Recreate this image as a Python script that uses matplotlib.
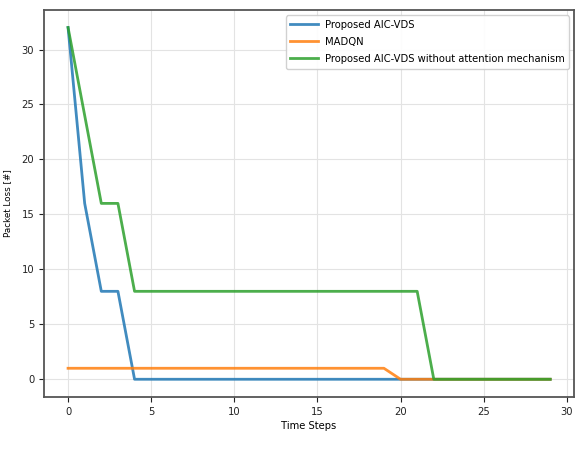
import matplotlib
matplotlib.use('Agg')
import matplotlib.pyplot as plt
from matplotlib.font_manager import FontProperties

#------------------------------------------------------------------------------
steps = list(range(30))
aic_vds = [32, 16, 8, 8] + [0] * 26
madqn = [1] * 20 + [0] * 10
aic_no_att = [32, 24, 16, 16] + [8] * 18 + [0] * 8
labels = ['Proposed AIC-VDS', 'MADQN', 'Proposed AIC-VDS without attention mechanism']
#------------------------------------------------------------------------------

tick_font = FontProperties(family='DejaVu Sans', stretch='condensed', size=8)
lab_font = FontProperties(family='DejaVu Sans', stretch='condensed', size=8)

fig = plt.figure(figsize=(5.86, 4.73), dpi=100)
ax = fig.add_axes([0.075, 0.161, 0.905, 0.818])

ax.plot(steps, aic_vds, color='tab:blue', linewidth=2, alpha=0.85, label=labels[0])
ax.plot(steps, madqn, color='tab:orange', linewidth=2, alpha=0.85, label=labels[1])
ax.plot(steps, aic_no_att, color='tab:green', linewidth=2, alpha=0.85, label=labels[2])

ax.grid(True, color='#e3e3e3', linewidth=0.8)
ax.set_axisbelow(True)
for s in ax.spines.values():
    s.set_color('#555555')
    s.set_linewidth(1.3)

ax.set_xticks([0, 5, 10, 15, 20, 25, 30])
ax.set_yticks([0, 5, 10, 15, 20, 25, 30])
for t in ax.get_xticklabels() + ax.get_yticklabels():
    t.set_fontproperties(tick_font)
ax.tick_params(colors='#222222', length=3.5)

ax.set_xlabel('Time Steps', fontproperties=lab_font, labelpad=3)
ax.set_ylabel('Packet Loss [#]', fontsize=6.3, labelpad=7)

ax.legend(loc='upper right', prop=lab_font, framealpha=0.9,
          handlelength=2.5, handletextpad=0.6, labelspacing=0.65)

fig.savefig('out.png')
